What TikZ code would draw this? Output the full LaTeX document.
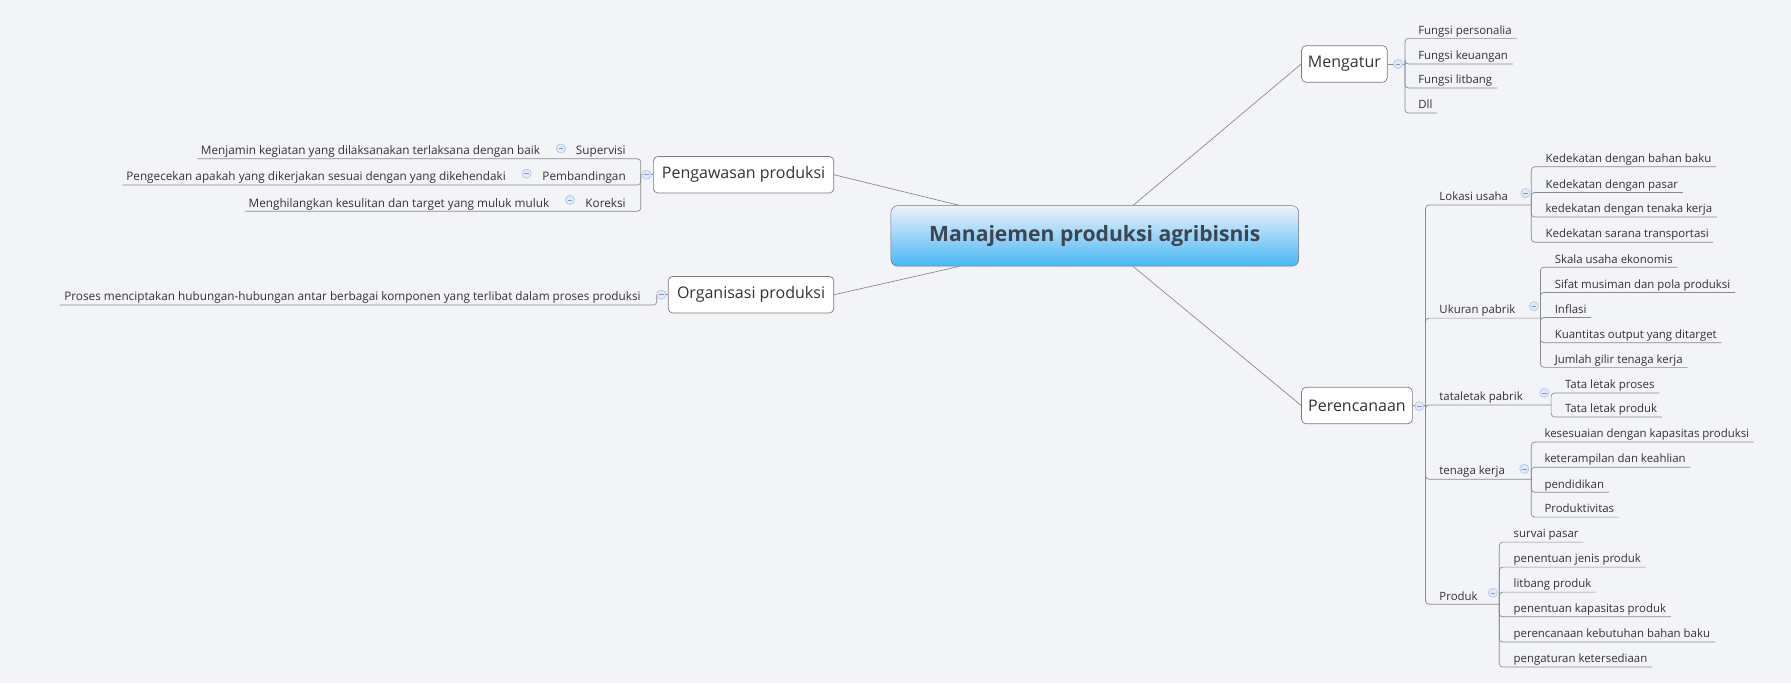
\documentclass[tikz,border=0pt]{standalone}
\usepackage{fontspec}
\setmainfont{Open Sans}
\usetikzlibrary{calc}
\definecolor{bg}{HTML}{F3F4F8}
\definecolor{ln}{HTML}{8A8A8A}
\definecolor{bx}{HTML}{7A7A7A}
\definecolor{tx}{HTML}{333333}
\definecolor{ctx}{HTML}{3D4550}
\definecolor{cb}{HTML}{A9C2E6}
\definecolor{cf}{HTML}{E2EAF7}
\tikzset{
  conn/.style={draw=ln,line width=0.6pt,rounded corners=3pt},
  leafR/.style={anchor=south west,inner xsep=0pt,inner ysep=0pt,text depth=3.5pt,text height=9pt,font=\fontsize{10}{12}\selectfont,text=tx},
  leafL/.style={leafR,anchor=south east,font=\fontsize{10.3}{12}\selectfont},
  topicbox/.style={draw=bx,fill=white,rounded corners=4pt,line width=0.6pt,minimum height=32pt,inner xsep=4pt,font=\fontsize{14}{16}\selectfont,text=tx},
  coll/.style={circle,draw=cb,fill=cf,minimum size=8pt,inner sep=0pt,line width=0.5pt},
}
\newcommand\collapse[3]{\node[coll] (#1) at (#2,#3) {};\draw[cb!80!black,line width=0.5pt] ([xshift=-2pt]#1.center) -- ([xshift=2pt]#1.center);}
% right leaf: name, xv, yb, xt, yu, text
\newcommand\rleaf[6]{\node[leafR] (#1) at (#4,#5) {#6};
  \draw[conn] (#2,#3) -- (#2,#5) -- ([xshift=4pt]#1.south east);}
% right mid: name, xv, yb, xt, yu, xend, text
\newcommand\rmid[7]{\node[leafR] (#1) at (#4,#5) {#7};
  \draw[conn] (#2,#3) -- (#2,#5) -- (#6,#5);}
% left chain: name, xv, yb, xchildend, yu, childtext, grandend, grandtext
\newcommand\lchain[8]{\node[leafL] (#1) at (#4,#5) {#6};
  \node[leafL] (#1g) at (#7,#5) {#8};
  \draw[conn] (#2,#3) -- (#2,#5) -- ([xshift=-3pt]#1g.south west);}
\begin{document}
\begin{tikzpicture}[x=1pt,y=-1pt]
\fill[bg] (0,0) rectangle (1568,598);
\useasboundingbox (0,0) rectangle (1568,598);
% central
\node[draw=bx!90!blue,rounded corners=6pt,top color=cf!60!white,bottom color=cb!70!blue!60!cyan,minimum width=357pt,minimum height=53pt,font=\fontsize{18.5}{20}\selectfont\bfseries,text=ctx] (c) at (958.5,206.5) {Manajemen produksi agribisnis};
\node[topicbox,minimum width=75pt] (m) at (1177,56) {Mengatur};
\node[topicbox,minimum width=97pt] (p) at (1188,355) {Perencanaan};
\node[topicbox,minimum width=158pt] (pg) at (651,153) {Pengawasan produksi};
\node[topicbox,minimum width=145pt] (o) at (657.5,258) {Organisasi produksi};
\draw[conn] ([xshift=33.5pt]c.north) -- (m.west);
\draw[conn] ([xshift=33.5pt]c.south) -- (p.west);
\draw[conn] ([xshift=-118.5pt]c.north) -- (pg.east);
\draw[conn] ([xshift=-118.5pt]c.south) -- (o.east);
% Mengatur
\draw[conn] (m.east) -- (1230,56);
\rleaf{m1}{1230}{56}{1241.5}{33.6}{Fungsi personalia}
\rleaf{m2}{1230}{56}{1241.5}{56}{Fungsi keuangan}
\rleaf{m3}{1230}{56}{1241.5}{77}{Fungsi litbang}
\rleaf{m4}{1230}{56}{1241.5}{99}{Dll}
% Perencanaan
\draw[conn] (p.east) -- (1248,355);
\rmid{p1}{1248}{355}{1260}{179.5}{1340.6}{Lokasi usaha}
\rmid{p2}{1248}{355}{1260}{278.5}{1348.6}{Ukuran pabrik}
\rmid{p3}{1248}{355}{1260}{354.5}{1358}{tataletak pabrik}
\rmid{p4}{1248}{355}{1260}{419.5}{1340.6}{tenaga kerja}
\rmid{p5}{1248}{355}{1260}{529}{1312.6}{Produk}
\rleaf{a1}{1340.6}{179.5}{1353}{146}{Kedekatan dengan bahan baku}
\rleaf{a2}{1340.6}{179.5}{1353}{168.5}{Kedekatan dengan pasar}
\rleaf{a3}{1340.6}{179.5}{1353}{190}{kedekatan dengan tenaka kerja}
\rleaf{a4}{1340.6}{179.5}{1353}{212}{Kedekatan sarana transportasi}
\rleaf{b1}{1348.6}{278.5}{1361}{234}{Skala usaha ekonomis}
\rleaf{b2}{1348.6}{278.5}{1361}{256}{Sifat musiman dan pola produksi}
\rleaf{b3}{1348.6}{278.5}{1361}{278}{Inflasi}
\rleaf{b4}{1348.6}{278.5}{1361}{300}{Kuantitas output yang ditarget}
\rleaf{b5}{1348.6}{278.5}{1361}{321.6}{Jumlah gilir tenaga kerja}
\rleaf{t1}{1358}{354.5}{1370}{344}{Tata letak proses}
\rleaf{t2}{1358}{354.5}{1370}{365}{Tata letak produk}
\rleaf{k1}{1340.6}{419.5}{1352}{387}{kesesuaian dengan kapasitas produksi}
\rleaf{k2}{1340.6}{419.5}{1352}{409}{keterampilan dan keahlian}
\rleaf{k3}{1340.6}{419.5}{1352}{431}{pendidikan}
\rleaf{k4}{1340.6}{419.5}{1352}{452.7}{Produktivitas}
\rleaf{d1}{1312.6}{529}{1325}{474.6}{survai pasar}
\rleaf{d2}{1312.6}{529}{1325}{496.5}{penentuan jenis produk}
\rleaf{d3}{1312.6}{529}{1325}{518.4}{litbang produk}
\rleaf{d4}{1312.6}{529}{1325}{540}{penentuan kapasitas produk}
\rleaf{d5}{1312.6}{529}{1325}{562}{perencanaan kebutuhan bahan baku}
\rleaf{d6}{1312.6}{529}{1325}{584}{pengaturan ketersediaan}
% Pengawasan
\draw[conn] (pg.west) -- (561,153);
\lchain{g1}{561}{153}{548}{139}{Supervisi}{473}{Menjamin kegiatan yang dilaksanakan terlaksana dengan baik}
\lchain{g2}{561}{153}{548}{162}{Pembandingan}{443}{Pengecekan apakah yang dikerjakan sesuai dengan yang dikehendaki}
\lchain{g3}{561}{153}{548}{185}{Koreksi}{481}{Menghilangkan kesulitan dan target yang muluk muluk}
% Organisasi
\draw[conn] (o.west) -- (575,258);
\node[leafL] (o1) at (561,267) {Proses menciptakan hubungan-hubungan antar berbagai komponen yang terlibat dalam proses produksi};
\draw[conn] (575,258) -- (575,267) -- ([xshift=-4pt]o1.south west);
% collapse markers
\collapse{cm}{1224}{56}
\collapse{cp}{1242.6}{355.5}
\collapse{c1}{1335.5}{169}
\collapse{c2}{1343}{268}
\collapse{c3}{1352}{344}
\collapse{c4}{1334.5}{410.5}
\collapse{c5}{1307}{519}
\collapse{cg}{566}{153}
\collapse{cg1}{491}{130}
\collapse{cg2}{461}{152}
\collapse{cg3}{499}{175}
\collapse{co}{579}{258}
\end{tikzpicture}
\end{document}
